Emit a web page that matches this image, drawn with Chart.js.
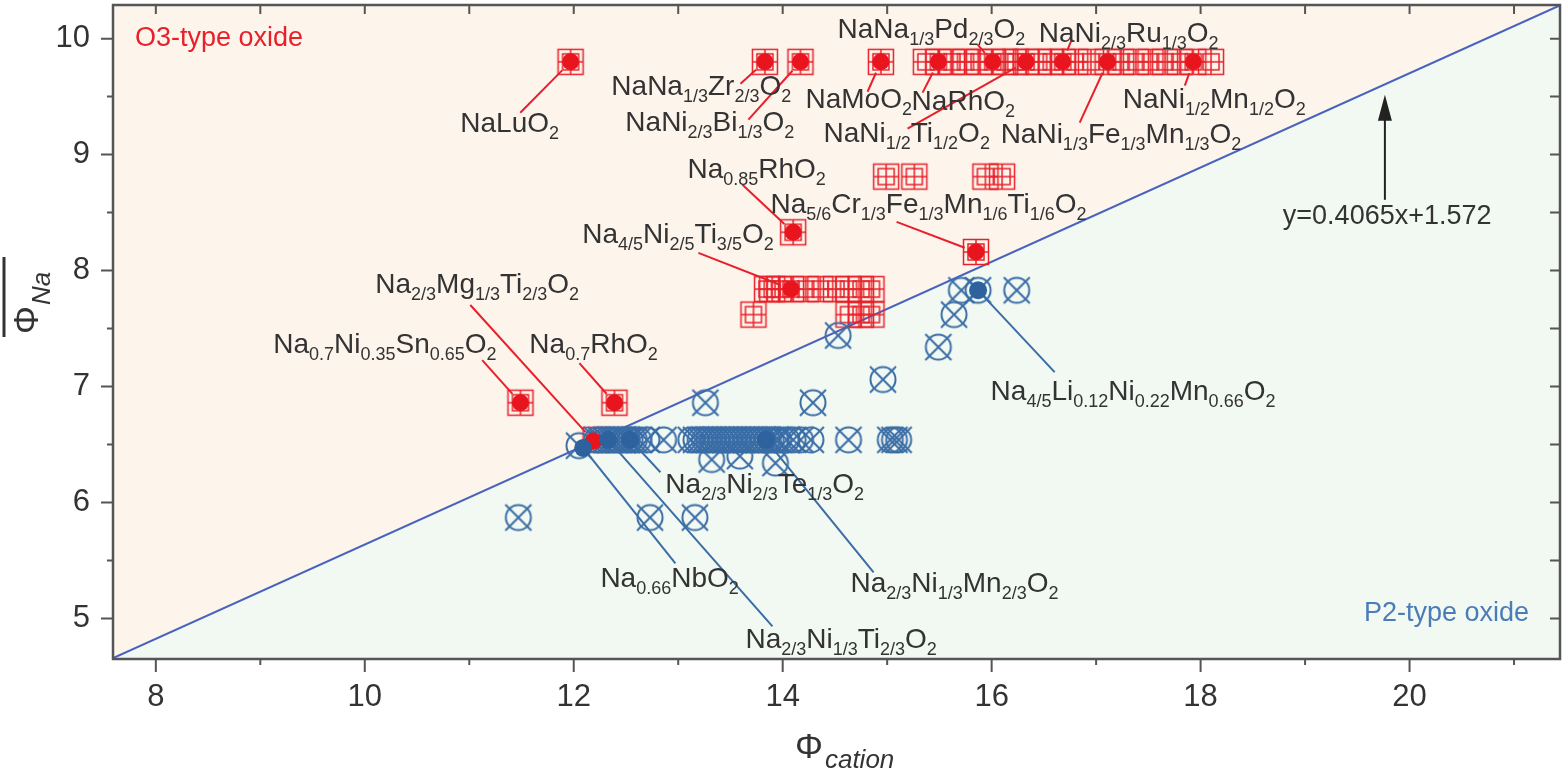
<!DOCTYPE html>
<html lang="en">
<head>
<meta charset="UTF-8">
<title>O3 / P2 cationic potential map</title>
<script src="https://cdn.jsdelivr.net/npm/chart.js"></script>
<style>
  html, body { margin: 0; padding: 0; background: #fff; }
  #wrap { width: 1565px; height: 771px; position: relative; }
</style>
</head>
<body>
<div id="wrap"><canvas id="chart"></canvas></div>
<script>
// axes
const xRange = [7.59, 21.44];
const yRange = [4.65, 10.29];
const xTicks = [8, 10, 12, 14, 16, 18, 20];
const yTicks = [5, 6, 7, 8, 9, 10];

// boundary line y = 0.4065x + 1.572
const fitSlope = 0.4065;
const fitIntercept = 1.572;

// O3-type oxides (open squares)
const o3X = [11.97, 13.83, 14.17, 14.94, 15.37, 15.49, 15.62, 15.75, 15.88, 16.01, 16.13, 16.23, 16.33,
             16.45, 16.57, 16.68, 16.80, 16.95, 17.11, 17.24, 17.38, 17.52, 17.66, 17.80, 17.93, 18.10,
             14.99, 15.26, 15.94, 16.10,
             14.10, 15.85,
             13.85, 13.90, 13.97, 14.08, 14.22, 14.36, 14.51, 14.63, 14.75, 14.85,
             13.72, 14.63, 14.75, 14.85,
             11.49, 12.39, 12.21];
const o3Y = [9.8, 9.8, 9.8, 9.8, 9.8, 9.8, 9.8, 9.8, 9.8, 9.8, 9.8, 9.8, 9.8,
             9.8, 9.8, 9.8, 9.8, 9.8, 9.8, 9.8, 9.8, 9.8, 9.8, 9.8, 9.8, 9.8,
             8.81, 8.81, 8.81, 8.81,
             8.33, 8.16,
             7.84, 7.84, 7.84, 7.84, 7.84, 7.84, 7.84, 7.84, 7.84, 7.84,
             7.62, 7.62, 7.62, 7.62,
             6.86, 6.86, 6.54];

// P2-type oxides (crossed circles)
const p2X = [12.05, 12.22, 12.26, 12.31, 12.35, 12.39, 12.43, 12.47, 12.51, 12.54, 12.58, 12.62, 12.70, 12.86,
             13.12, 13.17, 13.21, 13.25, 13.29, 13.33, 13.37, 13.41, 13.45, 13.49, 13.53, 13.57, 13.61,
             13.65, 13.69, 13.73, 13.77, 13.81, 13.85, 13.89, 13.93, 13.96,
             14.04, 14.10, 14.17, 14.27, 14.63, 15.03, 15.07, 15.11,
             13.32, 13.59, 13.93,
             13.26, 14.29, 14.96,
             14.53, 15.49, 15.64, 15.71, 15.87, 16.24,
             11.47, 12.73, 13.16];
const p2Y = [6.49, 6.54, 6.54, 6.54, 6.54, 6.54, 6.54, 6.54, 6.54, 6.54, 6.54, 6.54, 6.54, 6.54,
             6.54, 6.54, 6.54, 6.54, 6.54, 6.54, 6.54, 6.54, 6.54, 6.54, 6.54, 6.54, 6.54,
             6.54, 6.54, 6.54, 6.54, 6.54, 6.54, 6.54, 6.54, 6.54,
             6.54, 6.54, 6.54, 6.54, 6.54, 6.54, 6.54, 6.54,
             6.37, 6.40, 6.34,
             6.86, 6.86, 7.06,
             7.44, 7.34, 7.62, 7.83, 7.83, 7.83,
             5.87, 5.87, 5.87];

// labelled O3 compounds
const o3Names = ['NaLuO_2', 'NaNa_{1/3}Zr_{2/3}O_2', 'NaNi_{2/3}Bi_{1/3}O_2', 'NaMoO_2', 'NaRhO_2',
                 'NaNi_{1/2}Ti_{1/2}O_2', 'NaNa_{1/3}Pd_{2/3}O_2', 'NaNi_{2/3}Ru_{1/3}O_2',
                 'NaNi_{1/3}Fe_{1/3}Mn_{1/3}O_2', 'NaNi_{1/2}Mn_{1/2}O_2', 'Na_{0.85}RhO_2',
                 'Na_{5/6}Cr_{1/3}Fe_{1/3}Mn_{1/6}Ti_{1/6}O_2', 'Na_{4/5}Ni_{2/5}Ti_{3/5}O_2',
                 'Na_{2/3}Mg_{1/3}Ti_{2/3}O_2', 'Na_{0.7}Ni_{0.35}Sn_{0.65}O_2', 'Na_{0.7}RhO_2'];
const o3NamedX = [11.97, 13.83, 14.17, 14.94, 15.49, 16.33, 16.01, 16.68, 17.11, 17.93, 14.10, 15.85, 14.08, 12.19, 11.49, 12.39];
const o3NamedY = [9.8, 9.8, 9.8, 9.8, 9.8, 9.8, 9.8, 9.8, 9.8, 9.8, 8.33, 8.16, 7.84, 6.53, 6.86, 6.86];

// labelled P2 compounds
const p2Names = ['Na_{0.66}NbO_2', 'Na_{2/3}Ni_{1/3}Ti_{2/3}O_2', 'Na_{2/3}Ni_{2/3}Te_{1/3}O_2',
                 'Na_{2/3}Ni_{1/3}Mn_{2/3}O_2', 'Na_{4/5}Li_{0.12}Ni_{0.22}Mn_{0.66}O_2'];
const p2NamedX = [12.09, 12.33, 12.54, 13.84, 15.87];
const p2NamedY = [6.47, 6.54, 6.54, 6.54, 7.83];

// where the labels sit (data units: left edge, middle) and where leaders start
const o3LabelX = [10.914, 12.360, 12.494, 14.218, 15.234, 14.391, 14.525, 16.450, 16.086, 17.255, 13.088, 13.883, 12.082, 10.100, 9.123, 11.575];
const o3LabelY = [9.283, 9.603, 9.292, 9.491, 9.473, 9.197, 10.095, 10.060, 9.188, 9.491, 8.886, 8.584, 8.325, 7.893, 7.375, 7.375];
const o3LeadX = [11.488, 13.596, 13.672, 14.812, 15.339, 15.195, 15.866, 16.766, 16.843, 17.849, 13.615, 15.090, 13.193, 11.010, 11.124, 12.054];
const o3LeadY = [9.361, 9.611, 9.301, 9.542, 9.534, 9.223, 9.948, 9.991, 9.275, 9.594, 8.739, 8.420, 8.152, 7.703, 7.228, 7.202];
const p2LabelX = [12.255, 13.644, 12.877, 14.649, 15.990];
const p2LabelY = [5.354, 4.827, 6.166, 5.311, 6.969];
const p2LeadX = [12.973, 13.902, 12.830, 14.870, 16.603];
const p2LeadY = [5.475, 4.931, 6.261, 5.397, 7.124];

const RED = '#e8202a';
const BLUE = '#3a6da6';
const INK = '#333333';
const FONT = '"Liberation Sans", Arial, sans-serif';

function squareMark() {
    const c = document.createElement('canvas');
    c.width = 30; c.height = 30;
    const g = c.getContext('2d');
    g.strokeStyle = RED;
    g.lineWidth = 1.5;
    g.strokeRect(2.5, 2.5, 25, 25);
    g.strokeRect(7, 7, 16, 16);
    g.beginPath();
    g.moveTo(15, 2.5); g.lineTo(15, 27.5);
    g.moveTo(2.5, 15); g.lineTo(27.5, 15);
    g.stroke();
    return c;
}

function crossMark() {
    const c = document.createElement('canvas');
    c.width = 32; c.height = 32;
    const g = c.getContext('2d');
    g.strokeStyle = BLUE;
    g.lineWidth = 2;
    g.beginPath();
    g.arc(16, 16, 12.5, 0, Math.PI * 2);
    g.moveTo(3, 3); g.lineTo(29, 29);
    g.moveTo(29, 3); g.lineTo(3, 29);
    g.stroke();
    return c;
}

// split 'Na_{2/3}O_2' into normal / subscript pieces
function parseRich(s) {
    const out = [];
    let buf = '';
    for (let i = 0; i < s.length; i++) {
        if (s[i] === '_') {
            if (buf) { out.push({ t: buf, sub: false }); buf = ''; }
            if (s[i + 1] === '{') {
                const j = s.indexOf('}', i);
                out.push({ t: s.slice(i + 2, j), sub: true });
                i = j;
            } else {
                out.push({ t: s[i + 1], sub: true });
                i++;
            }
        } else {
            buf += s[i];
        }
    }
    if (buf) out.push({ t: buf, sub: false });
    return out;
}

function drawRich(ctx, s, x, cy, color) {
    const base = cy + 10;
    let cx = x;
    ctx.fillStyle = color;
    ctx.textAlign = 'left';
    ctx.textBaseline = 'alphabetic';
    for (const p of parseRich(s)) {
        ctx.font = (p.sub ? '18px ' : '28px ') + FONT;
        ctx.fillText(p.t, cx, p.sub ? base + 7 : base);
        cx += ctx.measureText(p.t).width;
    }
}

function leader(ctx, x0, y0, x1, y1, trim, color) {
    const dx = x1 - x0, dy = y1 - y0;
    const len = Math.hypot(dx, dy);
    const k = Math.max(0, (len - trim) / len);
    ctx.strokeStyle = color;
    ctx.lineWidth = 2;
    ctx.beginPath();
    ctx.moveTo(x0, y0);
    ctx.lineTo(x0 + dx * k, y0 + dy * k);
    ctx.stroke();
}

const decor = {
    id: 'decor',
    beforeDatasetsDraw(chart) {
        const { ctx, chartArea: a, scales: { x, y } } = chart;
        const px0 = x.getPixelForValue(x.min), py0 = y.getPixelForValue(fitSlope * x.min + fitIntercept);
        const px1 = x.getPixelForValue(x.max), py1 = y.getPixelForValue(fitSlope * x.max + fitIntercept);
        ctx.save();
        ctx.beginPath();
        ctx.rect(a.left, a.top, a.width, a.height);
        ctx.clip();
        ctx.fillStyle = '#fdf4ec';
        ctx.beginPath();
        ctx.moveTo(px0, py0); ctx.lineTo(px1, py1);
        ctx.lineTo(a.right, a.top - 5); ctx.lineTo(a.left, a.top - 5);
        ctx.closePath(); ctx.fill();
        ctx.fillStyle = '#f2f8f2';
        ctx.beginPath();
        ctx.moveTo(px0, py0); ctx.lineTo(px1, py1);
        ctx.lineTo(a.right, a.bottom); ctx.lineTo(a.left, a.bottom);
        ctx.closePath(); ctx.fill();

        o3Names.forEach((n, i) => {
            leader(ctx, x.getPixelForValue(o3LeadX[i]), y.getPixelForValue(o3LeadY[i]),
                x.getPixelForValue(o3NamedX[i]), y.getPixelForValue(o3NamedY[i]), 12, RED);
        });
        p2Names.forEach((n, i) => {
            leader(ctx, x.getPixelForValue(p2LeadX[i]), y.getPixelForValue(p2LeadY[i]),
                x.getPixelForValue(p2NamedX[i]), y.getPixelForValue(p2NamedY[i]), 8, BLUE);
        });
        ctx.restore();
    },
    afterDatasetsDraw(chart) {
        const { ctx, chartArea: a, scales: { x, y } } = chart;
        ctx.save();
        o3Names.forEach((n, i) => drawRich(ctx, n, x.getPixelForValue(o3LabelX[i]), y.getPixelForValue(o3LabelY[i]), INK));
        p2Names.forEach((n, i) => drawRich(ctx, n, x.getPixelForValue(p2LabelX[i]), y.getPixelForValue(p2LabelY[i]), INK));

        ctx.textBaseline = 'middle';
        ctx.textAlign = 'left';
        ctx.font = '27px ' + FONT;
        ctx.fillStyle = RED;
        ctx.fillText('O3-type oxide', x.getPixelForValue(7.80), y.getPixelForValue(10.0));
        ctx.fillStyle = '#4a7db8';
        ctx.fillText('P2-type oxide', x.getPixelForValue(19.563), y.getPixelForValue(5.043));
        ctx.fillStyle = INK;
        ctx.fillText('y=0.4065x+1.572', x.getPixelForValue(18.787), y.getPixelForValue(8.463));

        // arrow pointing at the boundary
        const ax = x.getPixelForValue(19.764);
        const ay0 = y.getPixelForValue(8.61), ay1 = y.getPixelForValue(9.516);
        ctx.strokeStyle = '#222'; ctx.fillStyle = '#222'; ctx.lineWidth = 2;
        ctx.beginPath(); ctx.moveTo(ax, ay0); ctx.lineTo(ax, ay1 + 20); ctx.stroke();
        ctx.beginPath(); ctx.moveTo(ax, ay1); ctx.lineTo(ax - 7, ay1 + 26); ctx.lineTo(ax + 7, ay1 + 26);
        ctx.closePath(); ctx.fill();

        // frame + ticks
        ctx.strokeStyle = '#555';
        ctx.lineWidth = 2.5;
        ctx.strokeRect(a.left, a.top, a.width, a.height);
        ctx.lineWidth = 2;
        ctx.beginPath();
        for (let v = 8; v <= 21; v++) {
            const p = x.getPixelForValue(v);
            const len = v % 2 === 0 ? 13 : 6;
            ctx.moveTo(p, a.bottom); ctx.lineTo(p, a.bottom + len);
            ctx.moveTo(p, a.top); ctx.lineTo(p, a.top + 9);
        }
        for (let v = 5; v <= 10; v += 0.5) {
            const p = y.getPixelForValue(v);
            const len = Number.isInteger(v) ? 12 : 6;
            ctx.moveTo(a.left, p); ctx.lineTo(a.left - len, p);
            ctx.moveTo(a.right, p); ctx.lineTo(a.right - 10, p);
        }
        ctx.stroke();

        // tick labels
        ctx.fillStyle = INK;
        ctx.font = '31px ' + FONT;
        ctx.textBaseline = 'middle';
        ctx.textAlign = 'center';
        xTicks.forEach(v => ctx.fillText(String(v), x.getPixelForValue(v), a.bottom + 38));
        ctx.textAlign = 'right';
        yTicks.forEach(v => ctx.fillText(String(v), a.left - 23, y.getPixelForValue(v)));
        ctx.restore();
    },
    afterDraw(chart) {
        const { ctx } = chart;
        ctx.save();
        ctx.fillStyle = INK;
        ctx.textAlign = 'left';
        ctx.textBaseline = 'alphabetic';
        // x title
        ctx.font = '35px ' + FONT;
        ctx.fillText('\u03A6', 795, 758);
        const w = ctx.measureText('\u03A6').width;
        ctx.font = 'italic 26px ' + FONT;
        ctx.fillText('cation', 795 + w + 2, 768);
        // y title (rotated, with overline)
        ctx.translate(38, 334);
        ctx.rotate(-Math.PI / 2);
        ctx.font = '35px ' + FONT;
        ctx.fillText('\u03A6', 0, 0);
        const w2 = ctx.measureText('\u03A6').width;
        ctx.font = 'italic 26px ' + FONT;
        ctx.fillText('Na', w2 + 1, 12);
        ctx.strokeStyle = INK;
        ctx.lineWidth = 3;
        ctx.beginPath(); ctx.moveTo(-3, -34); ctx.lineTo(77, -34); ctx.stroke();
        ctx.restore();
    }
};

const pts = (xs, ys) => xs.map((v, i) => ({ x: v, y: ys[i] }));

new Chart(document.getElementById('chart'), {
    type: 'scatter',
    data: {
        datasets: [
            {
                type: 'line',
                data: [
                    { x: xRange[0], y: fitSlope * xRange[0] + fitIntercept },
                    { x: xRange[1], y: fitSlope * xRange[1] + fitIntercept }
                ],
                borderColor: '#4863bd',
                borderWidth: 2,
                pointRadius: 0,
                order: 5
            },
            { data: pts(o3X, o3Y), pointStyle: squareMark(), pointRadius: 13, order: 4 },
            { data: pts(p2X, p2Y), pointStyle: crossMark(), pointRadius: 14, order: 3 },
            { data: pts(o3NamedX, o3NamedY), pointStyle: 'circle', pointRadius: 8.5, backgroundColor: '#e8141e', borderWidth: 0, order: 2 },
            { data: pts(p2NamedX, p2NamedY), pointStyle: 'circle', pointRadius: 9, backgroundColor: '#2e629e', borderWidth: 0, order: 1 }
        ]
    },
    options: {
        responsive: true,
        maintainAspectRatio: false,
        animation: false,
        events: [],
        layout: { autoPadding: false, padding: { top: 5, right: 5, left: 0, bottom: 0 } },
        plugins: { legend: { display: false }, tooltip: { enabled: false } },
        scales: {
            x: {
                type: 'linear',
                min: xRange[0],
                max: xRange[1],
                grid: { display: false, drawTicks: false },
                border: { display: false },
                ticks: { display: false },
                afterFit: s => { s.height = 112; }
            },
            y: {
                type: 'linear',
                min: yRange[0],
                max: yRange[1],
                grid: { display: false, drawTicks: false },
                border: { display: false },
                ticks: { display: false },
                afterFit: s => { s.width = 113; }
            }
        }
    },
    plugins: [decor]
});
</script>
</body>
</html>
